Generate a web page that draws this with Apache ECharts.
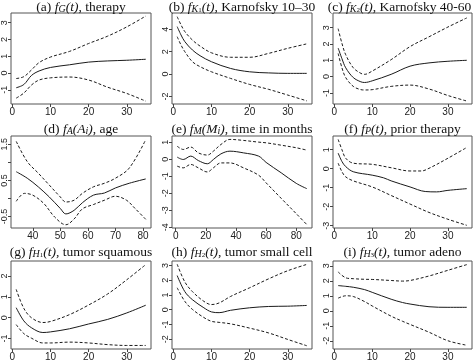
<!DOCTYPE html>
<html><head><meta charset="utf-8">
<script src="https://cdn.jsdelivr.net/npm/echarts@6/dist/echarts.min.js"></script>
<style>html,body{margin:0;padding:0;background:#fff}#c{width:474px;height:362px}</style>
</head><body><div id="c"></div>
<script>
// ---- data ----
const tTicks = [0, 10, 20, 30];

// (a) therapy
const aX = [1, 3, 5, 7, 10, 15, 20, 25, 30, 35];
const aUp = [-0.33, -0.22, 0.18, 0.62, 0.95, 1.29, 1.76, 2.2, 2.75, 3.4];
const aMid = [-0.88, -0.69, -0.15, 0.12, 0.33, 0.49, 0.65, 0.72, 0.76, 0.82];
const aLo = [-1.5, -1.2, -0.72, -0.42, -0.29, -0.24, -0.42, -0.85, -1.22, -1.68];

// (b) Karnofsky 10-30
const bX = [1, 2, 3, 5, 7, 10, 15, 20, 25, 30, 35];
const bUp = [5.13, 4.4, 3.8, 3.04, 2.5, 1.9, 1.5, 1.5, 1.85, 2.3, 2.7];
const bMid = [4.24, 3.5, 2.9, 2.15, 1.64, 1.1, 0.5, 0.2, 0.1, 0.06, 0.06];
const bLo = [3.34, 2.6, 2.0, 1.1, 0.66, 0.2, -0.39, -0.93, -1.37, -1.88, -2.4];

// (c) Karnofsky 40-60
const cX = [1, 2, 3, 5, 7, 8, 10, 15, 20, 25, 30, 35];
const cUp = [2.94, 2.04, 1.34, 0.54, 0.2, 0.14, 0.34, 1.04, 1.84, 2.44, 3.04, 3.6];
const cMid = [1.75, 1.1, 0.54, -0.06, -0.32, -0.36, -0.26, 0.14, 0.64, 0.84, 0.94, 1.0];
const cLo = [1.42, 0.54, -0.06, -0.6, -0.8, -0.82, -0.8, -0.6, -0.52, -0.76, -1.16, -1.5];

// (d) age
const dX = [34, 38, 42, 46, 50, 52, 55, 58, 62, 66, 70, 75, 81];
const dUp = [1.58, 1.02, 0.7, 0.37, 0.04, -0.1, -0.05, 0.14, 0.32, 0.42, 0.56, 0.84, 1.63];
const dMid = [0.74, 0.56, 0.32, 0.04, -0.28, -0.43, -0.33, -0.12, 0.09, 0.15, 0.29, 0.42, 0.54];
const dLoX = [34, 37, 40, 44, 48, 52, 55, 58, 62, 66, 70, 74, 77, 81];
const dLo = [-0.08, 0.14, 0.09, -0.14, -0.52, -0.73, -0.57, -0.29, -0.17, -0.05, 0.06, -0.05, -0.27, -0.58];
const ageTicks = [40, 50, 60, 70, 80];

// (e) time in months
const eX = [1, 5, 10, 15, 21, 25, 30, 36, 45, 55, 60, 70, 80, 87];
const eUp = [0.76, 0.57, 0.71, 0.37, 0.24, 0.47, 0.86, 1.16, 1.1, 1.0, 0.96, 0.82, 0.67, 0.53];
const eMid = [0.12, -0.02, 0.18, -0.08, -0.27, -0.02, 0.31, 0.47, 0.37, 0.18, -0.19, -0.8, -1.42, -1.73];
const eLo = [-0.41, -0.51, -0.31, -0.51, -0.75, -0.51, -0.22, -0.22, -0.51, -0.94, -1.39, -2.3, -3.2, -3.84];
const monthTicks = [0, 20, 40, 60, 80];

// (f) prior therapy
const fMidX = [1, 2, 3, 5, 10, 13, 15, 20, 24, 27, 30, 35];
const fMid = [0.82, 0.38, 0.11, -0.16, -0.34, -0.48, -0.64, -0.96, -1.2, -1.22, -1.14, -1.05];
const fUpX = [1, 2, 3, 5, 10, 15, 20, 23, 25, 30, 35];
const fUp = [1.54, 1.0, 0.55, 0.29, 0.23, 0.05, -0.12, -0.12, 0.02, 0.55, 1.12];
const fLoX = [1, 2, 3, 5, 10, 15, 20, 25, 30, 35];
const fLo = [0.29, -0.16, -0.43, -0.64, -0.96, -1.41, -1.86, -2.3, -2.66, -2.98];

// (g) tumor squamous
const gX = [1, 3, 5, 8, 10, 15, 20, 25, 30, 35];
const gUp = [1.36, 0.45, 0.0, -0.23, -0.18, 0.15, 0.61, 1.14, 1.82, 2.55];
const gMid = [0.48, -0.15, -0.48, -0.71, -0.68, -0.53, -0.3, -0.08, 0.23, 0.6];
const gLo = [-0.33, -0.76, -0.98, -1.21, -1.21, -1.17, -1.21, -1.29, -1.33, -1.33];

// (h) tumor small cell
const hX = [1, 3, 5, 8, 10, 12, 15, 20, 25, 30, 35];
const hUp = [3.09, 1.89, 1.23, 0.57, 0.35, 0.46, 0.9, 1.49, 2.1, 2.65, 3.08];
const hMid = [2.32, 1.23, 0.68, 0.13, -0.15, -0.2, -0.04, 0.13, 0.22, 0.24, 0.29];
const hLo = [1.49, 0.57, 0.02, -0.53, -0.79, -0.86, -0.96, -1.25, -1.58, -2.02, -2.45];

// (i) tumor adeno
const iX = [1, 3, 5, 8, 10, 15, 18, 20, 25, 30, 35];
const iUp = [2.59, 2.2, 2.14, 2.1, 2.09, 2.02, 1.98, 2.02, 2.32, 2.7, 3.08];
const iMid = [1.68, 1.63, 1.57, 1.41, 1.23, 0.77, 0.55, 0.45, 0.27, 0.23, 0.23];
const iLo = [0.84, 1.0, 0.95, 0.61, 0.32, -0.36, -0.7, -0.91, -1.43, -2.0, -2.3];

// ---- panels ----
const panels = [
  {title: '{n|(a) }{i|f}{s|G}{i|(t)}{n|, therapy}', up: [aX, aUp], mid: [aX, aMid], lo: [aX, aLo],
   xr: [-0.36, 36.36], xt: tTicks, yr: [-1.85, 3.58], yt: [-1, 0, 1, 2, 3], yl: [-1, 0, 1, 2, 3]},
  {title: '{n|(b) }{i|f}{s|K}{ss|1}{i|(t)}{n|, Karnofsky 10–30}', up: [bX, bUp], mid: [bX, bMid], lo: [bX, bLo],
   xr: [-0.36, 36.36], xt: tTicks, yr: [-2.68, 5.46], yt: [-2, 0, 2, 4], yl: [-2, 0, 2, 4]},
  {title: '{n|(c) }{i|f}{s|K}{ss|2}{i|(t)}{n|, Karnofsky 40-60}', up: [cX, cUp], mid: [cX, cMid], lo: [cX, cLo],
   xr: [-0.36, 36.36], xt: tTicks, yr: [-1.68, 3.9], yt: [-1, 0, 1, 2, 3], yl: [-1, 0, 1, 2, 3], tdx: -3},
  {title: '{n|(d) }{i|f}{s|A}{i|(A}{s|i}{i|)}{n|, age}', up: [dX, dUp], mid: [dX, dMid], lo: [dLoX, dLo],
   xr: [32.1, 82.9], xt: ageTicks, yr: [-0.82, 1.73], yt: [-0.5, 0, 0.5, 1, 1.5], yl: [-0.5, 0.5, 1.5]},
  {title: '{n|(e) }{i|f}{s|M}{i|(M}{s|i}{i|)}{n|, time in months}', up: [eX, eUp], mid: [eX, eMid], lo: [eX, eLo],
   xr: [-2.44, 90.44], xt: monthTicks, yr: [-4.04, 1.36], yt: [-4, -3, -2, -1, 0, 1], yl: [-4, -3, -2, -1, 0, 1]},
  {title: '{n|(f) }{i|f}{s|P}{i|(t)}{n|, prior therapy}', up: [fUpX, fUp], mid: [fMidX, fMid], lo: [fLoX, fLo],
   xr: [-0.36, 36.36], xt: tTicks, yr: [-3.12, 1.72], yt: [-3, -2, -1, 0, 1], yl: [-3, -2, -1, 0, 1]},
  {title: '{n|(g) }{i|f}{s|H}{ss|1}{i|(t)}{n|, tumor squamous}', up: [gX, gUp], mid: [gX, gMid], lo: [gX, gLo],
   xr: [-0.36, 36.36], xt: tTicks, yr: [-1.5, 2.72], yt: [-1, 0, 1, 2], yl: [-1, 0, 1, 2]},
  {title: '{n|(h) }{i|f}{s|H}{ss|2}{i|(t)}{n|, tumor small cell}', up: [hX, hUp], mid: [hX, hMid], lo: [hX, hLo],
   xr: [-0.36, 36.36], xt: tTicks, yr: [-2.67, 3.31], yt: [-2, -1, 0, 1, 2, 3], yl: [-2, -1, 0, 1, 2, 3]},
  {title: '{n|(i) }{i|f}{s|H}{ss|3}{i|(t)}{n|, tumor adeno}', up: [iX, iUp], mid: [iX, iMid], lo: [iX, iLo],
   xr: [-0.36, 36.36], xt: tTicks, yr: [-2.55, 3.32], yt: [-2, -1, 0, 1, 2, 3], yl: [-2, -1, 0, 1, 2, 3]}
];

// ---- layout ----
const cols = [{l: 11, w: 140}, {l: 172, w: 140}, {l: 333, w: 139}];
const rows = [{t: 13, h: 91}, {t: 136, h: 92}, {t: 261, h: 89}];
const titleTops = [-2, 120, 243];

const serif = 'Liberation Serif';
const base = {fontFamily: serif, color: '#111', fontWeight: 'normal', verticalAlign: 'bottom'};
const rich = {
  n: Object.assign({fontSize: 13.5, lineHeight: 16}, base),
  i: Object.assign({fontSize: 13.5, lineHeight: 16, fontStyle: 'italic'}, base),
  s: Object.assign({fontSize: 10, lineHeight: 8, fontStyle: 'italic'}, base),
  ss: Object.assign({fontSize: 7, lineHeight: 4}, base)
};

const zip = (xs, ys) => xs.map((x, k) => [x, ys[k]]);
const grid = [], xAxis = [], yAxis = [], series = [], title = [];
const axisFont = {fontFamily: 'Liberation Sans', color: '#222'};

panels.forEach((p, idx) => {
  const c = cols[idx % 3], r = rows[Math.floor(idx / 3)];
  grid.push({left: c.l, top: r.t, width: c.w, height: r.h, show: true,
    borderColor: '#555', borderWidth: 1, backgroundColor: 'transparent'});
  title.push({text: p.title, left: c.l + c.w / 2 + (p.tdx || 0), top: titleTops[Math.floor(idx / 3)],
    textAlign: 'center', padding: 0,
    textStyle: {rich: rich, fontSize: 13.5, fontWeight: 'normal', fontFamily: serif}});
  xAxis.push({gridIndex: idx, type: 'value', min: p.xr[0], max: p.xr[1],
    axisLine: {show: false, onZero: false}, splitLine: {show: false},
    axisTick: {show: true, length: 3, lineStyle: {color: '#444'}, customValues: p.xt},
    axisLabel: Object.assign({customValues: p.xt, fontSize: 10, margin: 3}, axisFont)});
  yAxis.push({gridIndex: idx, type: 'value', min: p.yr[0], max: p.yr[1],
    axisLine: {show: false, onZero: false}, splitLine: {show: false},
    axisTick: {show: true, length: 3, lineStyle: {color: '#444'}, customValues: p.yt},
    axisLabel: Object.assign({customValues: p.yl, fontSize: 9, margin: 2, rotate: 90}, axisFont)});
  const mk = (d, dashed) => ({type: 'line', xAxisIndex: idx, yAxisIndex: idx, data: zip(d[0], d[1]),
    showSymbol: false, smooth: 0.35, silent: true, animation: false,
    lineStyle: {color: '#1a1a1a', width: 1, type: dashed ? [3, 2] : 'solid'}});
  series.push(mk(p.up, true), mk(p.mid, false), mk(p.lo, true));
});

const chart = echarts.init(document.getElementById('c'), null, {renderer: 'canvas'});
chart.setOption({animation: false, backgroundColor: '#fff', title, grid, xAxis, yAxis, series});
</script>
</body></html>
